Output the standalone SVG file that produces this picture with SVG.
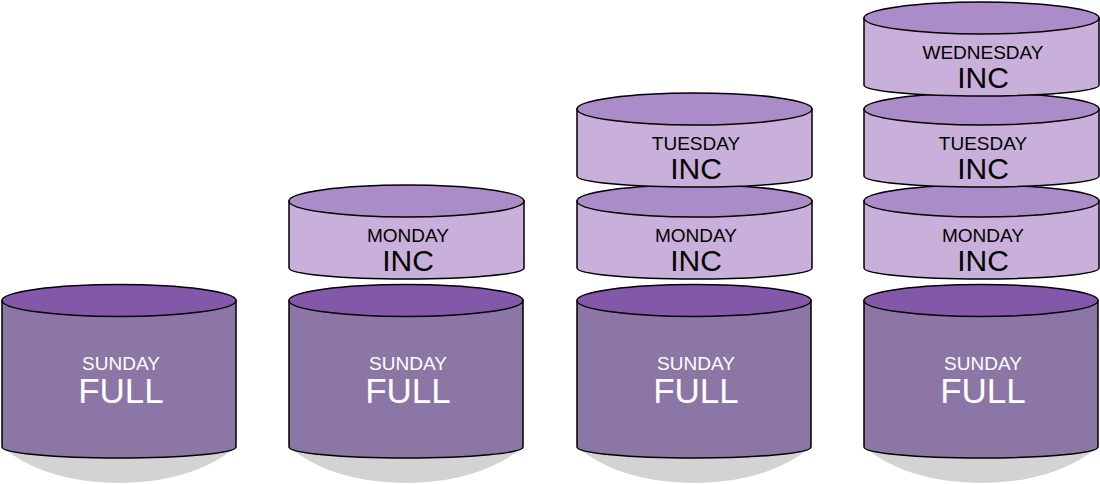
<svg xmlns="http://www.w3.org/2000/svg" width="1100" height="484" viewBox="0 0 1100 484">
<style>
.shadow{fill:#d3d3d4}
.bbody{fill:#8c76a6;stroke:#000;stroke-width:1.5}
.btop{fill:#8458a9;stroke:#000;stroke-width:1.5}
.sbody{fill:#c9b0da;stroke:#000;stroke-width:1.5}
.stop{fill:#aa8cc8;stroke:#000;stroke-width:1.5}
.wt{fill:#fff;font-family:"Liberation Sans",Arial,sans-serif;text-anchor:middle}
.bt{fill:#000;font-family:"Liberation Sans",Arial,sans-serif;text-anchor:middle}
</style>
<defs>
<clipPath id="below"><rect x="0" y="446" width="1100" height="40"/></clipPath>
<g id="small">
<path class="sbody" d="M0 0 L0 67 A117.5 11 0 0 0 235 67 L235 0 Z"/>
<ellipse class="stop" cx="117.5" cy="0" rx="117.5" ry="16"/>
</g>
</defs>
<g id="shadows" clip-path="url(#below)">
<ellipse class="shadow" cx="119" cy="410" rx="135" ry="73"/>
<ellipse class="shadow" cx="406" cy="410" rx="135" ry="73"/>
<ellipse class="shadow" cx="694" cy="410" rx="135" ry="73"/>
<ellipse class="shadow" cx="981" cy="410" rx="135" ry="73"/>
</g>
<g id="connectors"/>
<g id="sunday1">
<path class="bbody" d="M2 300.5 L2 447 A117 11 0 0 0 236 447 L236 300.5 Z"/>
<ellipse class="btop" cx="119" cy="300.5" rx="117" ry="16"/>
<text class="wt" x="121" y="370" font-size="19">SUNDAY</text>
<text class="wt" x="121" y="403" font-size="35">FULL</text>
</g>
<g id="sunday2">
<path class="bbody" d="M289 300.5 L289 447 A117 11 0 0 0 523 447 L523 300.5 Z"/>
<ellipse class="btop" cx="406" cy="300.5" rx="117" ry="16"/>
<text class="wt" x="408" y="370" font-size="19">SUNDAY</text>
<text class="wt" x="408" y="403" font-size="35">FULL</text>
</g>
<g id="sunday3">
<path class="bbody" d="M577 300.5 L577 447 A117 11 0 0 0 811 447 L811 300.5 Z"/>
<ellipse class="btop" cx="694" cy="300.5" rx="117" ry="16"/>
<text class="wt" x="696" y="370" font-size="19">SUNDAY</text>
<text class="wt" x="696" y="403" font-size="35">FULL</text>
</g>
<g id="sunday4">
<path class="bbody" d="M864 300.5 L864 447 A117 11 0 0 0 1098 447 L1098 300.5 Z"/>
<ellipse class="btop" cx="981" cy="300.5" rx="117" ry="16"/>
<text class="wt" x="983" y="370" font-size="19">SUNDAY</text>
<text class="wt" x="983" y="403" font-size="35">FULL</text>
</g>
<g id="monday2">
<use href="#small" transform="translate(289,201)"/>
<text class="bt" x="408" y="242" font-size="19">MONDAY</text>
<text class="bt" x="408" y="271" font-size="30">INC</text>
</g>
<g id="monday3">
<use href="#small" transform="translate(577,201)"/>
<text class="bt" x="696" y="242" font-size="19">MONDAY</text>
<text class="bt" x="696" y="271" font-size="30">INC</text>
</g>
<g id="tuesday3">
<use href="#small" transform="translate(577,109)"/>
<text class="bt" x="696" y="150" font-size="19">TUESDAY</text>
<text class="bt" x="696" y="179" font-size="30">INC</text>
</g>
<g id="monday4">
<use href="#small" transform="translate(864,201)"/>
<text class="bt" x="983" y="242" font-size="19">MONDAY</text>
<text class="bt" x="983" y="271" font-size="30">INC</text>
</g>
<g id="tuesday4">
<use href="#small" transform="translate(864,109)"/>
<text class="bt" x="983" y="150" font-size="19">TUESDAY</text>
<text class="bt" x="983" y="179" font-size="30">INC</text>
</g>
<g id="wednesday4">
<use href="#small" transform="translate(864,18)"/>
<text class="bt" x="983" y="59" font-size="19">WEDNESDAY</text>
<text class="bt" x="983" y="88" font-size="30">INC</text>
</g>
</svg>
